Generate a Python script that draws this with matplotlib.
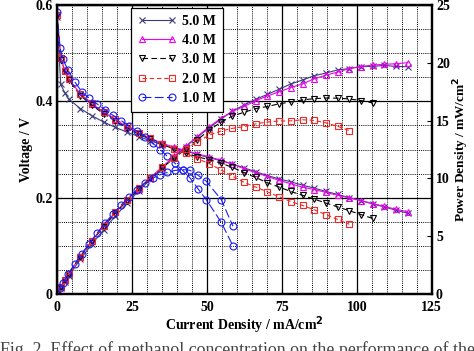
import matplotlib
matplotlib.use("Agg")
import matplotlib.pyplot as plt
from matplotlib.ticker import MultipleLocator, FixedLocator

plt.rcParams['font.family'] = ['Liberation Serif', 'DejaVu Serif']
plt.rcParams['font.weight'] = 'bold'

# current density (mA/cm2) for the runs on the 3.9 step grid, and the 1.0 M run
current = [0, 1.3, 2.6, 3.9, 7.8, 11.7, 15.6, 19.5, 23.4, 27.3, 31.2, 35.1, 39.0,
           42.9, 46.8, 50.7, 54.6, 58.5, 62.4, 66.3, 70.2, 74.1, 78.0, 81.9, 85.8,
           89.7, 93.6, 97.5, 101.4, 105.3, 109.2, 113.1, 117.0]
current_1m = [0, 1.1, 2.0, 3.7, 6.0, 8.3, 10.7, 13.3, 16.0, 18.7, 21.4, 24.1, 26.7,
              29.4, 31.9, 34.4, 36.8, 39.3, 41.9, 44.4, 47.0, 49.8, 54.8, 58.7]

# cell voltage (V)
v_5m = [0.575, 0.435, 0.418, 0.405, 0.385, 0.37, 0.357, 0.346, 0.336, 0.327, 0.318,
        0.31, 0.303, 0.297, 0.29, 0.283, 0.277, 0.27, 0.262, 0.254, 0.246, 0.239,
        0.233, 0.226, 0.22, 0.213, 0.207, 0.2, 0.194, 0.187, 0.181, 0.174, 0.168]
v_4m = [0.58, 0.49, 0.465, 0.448, 0.415, 0.395, 0.377, 0.362, 0.347, 0.334, 0.323,
        0.313, 0.305, 0.298, 0.291, 0.285, 0.278, 0.27, 0.26, 0.252, 0.244, 0.236,
        0.229, 0.222, 0.217, 0.211, 0.205, 0.2, 0.194, 0.188, 0.182, 0.176, 0.171]
v_3m = [0.58, 0.485, 0.462, 0.445, 0.412, 0.392, 0.374, 0.359, 0.345, 0.332, 0.321,
        0.311, 0.301, 0.292, 0.285, 0.279, 0.272, 0.263, 0.252, 0.242, 0.231, 0.222,
        0.213, 0.205, 0.197, 0.189, 0.181, 0.173, 0.165, 0.157]
v_2m = [0.58, 0.49, 0.462, 0.446, 0.415, 0.396, 0.378, 0.363, 0.348, 0.335, 0.323,
        0.312, 0.302, 0.292, 0.281, 0.271, 0.258, 0.245, 0.232, 0.222, 0.212, 0.202,
        0.192, 0.184, 0.175, 0.165, 0.155, 0.145]
v_1m = [0.585, 0.51, 0.487, 0.465, 0.44, 0.42, 0.407, 0.395, 0.383, 0.371, 0.36,
        0.349, 0.338, 0.327, 0.314, 0.3, 0.286, 0.272, 0.257, 0.241, 0.219, 0.196,
        0.149, 0.10]

# power density (mW/cm2)
p_5m = [0, 0.57, 1.09, 1.58, 3.00, 4.33, 5.57, 6.75, 7.86, 8.93, 9.92, 10.88, 11.82,
        12.74, 13.57, 14.35, 15.12, 15.80, 16.35, 16.84, 17.27, 17.71, 18.17, 18.51,
        18.88, 19.11, 19.38, 19.50, 19.67, 19.69, 19.77, 19.68, 19.66]
p_4m = [0, 0.64, 1.21, 1.75, 3.24, 4.62, 5.88, 7.06, 8.12, 9.12, 10.08, 10.99, 11.90,
        12.78, 13.62, 14.45, 15.18, 15.80, 16.22, 16.71, 17.13, 17.49, 17.86, 18.18,
        18.62, 18.93, 19.19, 19.50, 19.67, 19.80, 19.87, 19.91, 20.01]
p_3m = [0, 0.63, 1.20, 1.74, 3.21, 4.59, 5.83, 7.00, 8.07, 9.06, 10.02, 10.92, 11.74,
        12.53, 13.34, 14.15, 14.85, 15.39, 15.72, 16.04, 16.22, 16.45, 16.61, 16.79,
        16.90, 16.95, 16.94, 16.87, 16.73, 16.53]
p_2m = [0, 0.64, 1.20, 1.74, 3.24, 4.63, 5.90, 7.08, 8.14, 9.15, 10.08, 10.95, 11.78,
        12.53, 13.15, 13.74, 14.09, 14.33, 14.48, 14.72, 14.88, 14.97, 14.98, 15.07,
        15.02, 14.80, 14.51, 14.14]
p_1m = [0, 0.56, 0.97, 1.72, 2.64, 3.49, 4.35, 5.25, 6.13, 6.94, 7.70, 8.41, 9.02,
        9.61, 10.02, 10.32, 10.52, 10.69, 10.77, 10.70, 10.29, 9.76, 8.17, 5.87]

labels = ['5.0 M', '4.0 M', '3.0 M', '2.0 M', '1.0 M']

series = [
    (current, v_5m, p_5m, dict(color='#3b3b7d', marker='x', ls='-')),
    (current, v_4m, p_4m, dict(color='#f000f0', marker='^', ls='-')),
    (current, v_3m, p_3m, dict(color='black', marker='v', ls=(0, (5, 3)))),
    (current, v_2m, p_2m, dict(color='#f02828', marker='s', ls=(0, (4, 2.5)))),
    (current_1m, v_1m, p_1m, dict(color='#1c1cf0', marker='o', ls=(0, (8, 3)))),
]

fig = plt.figure(figsize=(4.74, 3.51), dpi=100)
ax = fig.add_axes([0.120, 0.162, 0.791, 0.824])
ax2 = ax.twinx()

handles = []
for (cur, v, p, st), lab in zip(series, labels):
    common = dict(lw=0.8, ms=5, mew=0.8, mfc='none', mec=st['color'],
                  color=st['color'], marker=st['marker'], ls=st['ls'])
    h, = ax.plot(cur[:len(v)], v, label=lab, **common)
    ax2.plot(cur[:len(p)], p, **common)
    handles.append(h)

ax.set_xlim(0, 125)
ax.set_ylim(0, 0.6)
ax2.set_ylim(0, 25)

ax.xaxis.set_major_locator(MultipleLocator(25))
ax.xaxis.set_minor_locator(MultipleLocator(5))
ax.yaxis.set_major_locator(FixedLocator([0, 0.2, 0.4, 0.6]))
ax.yaxis.set_minor_locator(MultipleLocator(0.05))
ax.set_yticklabels(['0', '0.2', '0.4', '0.6'])
ax2.yaxis.set_major_locator(MultipleLocator(5))

ax.grid(which='major', color='black', lw=0.9, ls='-')
ax.grid(which='minor', color='black', lw=0.7, ls=(0, (1, 1.2)))
ax.set_axisbelow(True)

for a in (ax, ax2):
    a.tick_params(which='both', direction='in', labelsize=10, pad=3)
    a.tick_params(which='minor', length=0)
    for s in a.spines.values():
        s.set_linewidth(1.6)
ax.tick_params(axis='x', pad=5)

ax.set_xlabel('Current Density / mA/cm$^\\mathbf{2}$', fontsize=10, fontweight='bold', labelpad=0)
ax.set_ylabel('Voltage / V', fontsize=10, fontweight='bold', labelpad=2)
ax2.set_ylabel('Power Density / mW/cm$^\\mathbf{2}$', fontsize=9.5, fontweight='bold', labelpad=1)

leg = ax2.legend(handles=handles, loc='upper left', bbox_to_anchor=(0.197, 0.99),
                 borderaxespad=0, numpoints=2, handlelength=2.8, fancybox=False,
                 framealpha=1, edgecolor='black', prop=dict(size=10, weight='bold'),
                 labelspacing=0.45, borderpad=0.5, handletextpad=0.4)
leg.get_frame().set_linewidth(0.9)

fig.text(0.0, -0.012, 'Fig. 2. Effect of methanol concentration on the performance of the',
         fontsize=12.9, color='#444444', fontweight='normal', va='baseline', ha='left')

fig.savefig('out.png', dpi=100)
